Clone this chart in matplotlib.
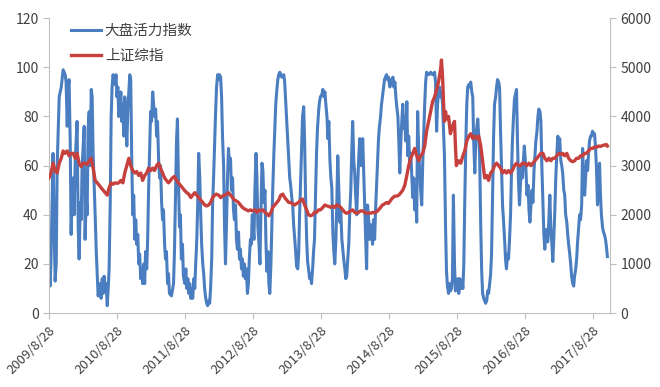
import pandas as pd
import matplotlib
matplotlib.use("Agg")
import matplotlib.pyplot as plt
import matplotlib.dates as mdates

plt.rcParams['font.family'] = ['Noto Sans CJK SC', 'DejaVu Sans']

# 大盘活力指数 (left axis)
vitality_dates = [
    "2009-08-28", "2009-09-03", "2009-09-08", "2009-09-14", "2009-09-19", "2009-09-25", "2009-09-30",
    "2009-10-06", "2009-10-11", "2009-10-22", "2009-11-02", "2009-11-12", "2009-11-23", "2009-11-28",
    "2009-12-04", "2009-12-09", "2009-12-14", "2009-12-20", "2009-12-25", "2009-12-31", "2010-01-05",
    "2010-01-10", "2010-01-16", "2010-01-21", "2010-01-26", "2010-02-01", "2010-02-06", "2010-02-12",
    "2010-02-17", "2010-02-22", "2010-02-28", "2010-03-05", "2010-03-10", "2010-03-16", "2010-03-21",
    "2010-03-26", "2010-04-01", "2010-04-06", "2010-04-12", "2010-04-17", "2010-04-22", "2010-05-03",
    "2010-05-09", "2010-05-19", "2010-05-30", "2010-06-04", "2010-06-10", "2010-06-15", "2010-06-20",
    "2010-06-26", "2010-07-01", "2010-07-07", "2010-07-12", "2010-07-17", "2010-07-23", "2010-07-28",
    "2010-08-02", "2010-08-07", "2010-08-18", "2010-08-23", "2010-08-28",
    "2010-09-02", "2010-09-07", "2010-09-13", "2010-09-18", "2010-09-23", "2010-09-29", "2010-10-04",
    "2010-10-09", "2010-10-15", "2010-10-20", "2010-10-25", "2010-10-31", "2010-11-05", "2010-11-10",
    "2010-11-16", "2010-11-21", "2010-11-26", "2010-12-02", "2010-12-07", "2010-12-12", "2010-12-18",
    "2010-12-23", "2010-12-28", "2011-01-03", "2011-01-08", "2011-01-13", "2011-01-19", "2011-01-24",
    "2011-01-29", "2011-02-04", "2011-02-09", "2011-02-14", "2011-02-20", "2011-02-25", "2011-03-02",
    "2011-03-08", "2011-03-13", "2011-03-18", "2011-03-24", "2011-03-29", "2011-04-03", "2011-04-09",
    "2011-04-14", "2011-04-19", "2011-04-25", "2011-04-30", "2011-05-05", "2011-05-11", "2011-05-16",
    "2011-05-21", "2011-05-27", "2011-06-01", "2011-06-06", "2011-06-17", "2011-06-28", "2011-07-03",
    "2011-07-08", "2011-07-14", "2011-07-19", "2011-07-24", "2011-07-30", "2011-08-04", "2011-08-09",
    "2011-08-15", "2011-08-20", "2011-08-28",
    "2011-09-02", "2011-09-07", "2011-09-13", "2011-09-18", "2011-09-23", "2011-09-29", "2011-10-04",
    "2011-10-09", "2011-10-15", "2011-10-20", "2011-10-25", "2011-10-31", "2011-11-05", "2011-11-10",
    "2011-11-16", "2011-11-21", "2011-11-26", "2011-12-02", "2011-12-07", "2011-12-12", "2011-12-18",
    "2011-12-23", "2011-12-28", "2012-01-03", "2012-01-08", "2012-01-13", "2012-01-19", "2012-01-24",
    "2012-01-29", "2012-02-04", "2012-02-09", "2012-02-14", "2012-02-20", "2012-02-25", "2012-03-01",
    "2012-03-07", "2012-03-12", "2012-03-17", "2012-03-23", "2012-03-28", "2012-04-02", "2012-04-08",
    "2012-04-13", "2012-04-18", "2012-04-24", "2012-04-29", "2012-05-04", "2012-05-10", "2012-05-15",
    "2012-05-20", "2012-05-26", "2012-05-31", "2012-06-05", "2012-06-11", "2012-06-16", "2012-06-21",
    "2012-06-27", "2012-07-02", "2012-07-07", "2012-07-13", "2012-07-18", "2012-07-23", "2012-07-29",
    "2012-08-03", "2012-08-08", "2012-08-14", "2012-08-19", "2012-08-24",
    "2012-09-02", "2012-09-07", "2012-09-13", "2012-09-18", "2012-09-23", "2012-09-29", "2012-10-04",
    "2012-10-09", "2012-10-15", "2012-10-20", "2012-10-25", "2012-10-31", "2012-11-05", "2012-11-10",
    "2012-11-16", "2012-11-21", "2012-11-26", "2012-12-02", "2012-12-07", "2012-12-12", "2012-12-18",
    "2012-12-23", "2012-12-28", "2013-01-03", "2013-01-08", "2013-01-13", "2013-01-19", "2013-01-29",
    "2013-02-09", "2013-02-14", "2013-02-20", "2013-02-25", "2013-03-02", "2013-03-08", "2013-03-13",
    "2013-03-18", "2013-03-24", "2013-03-29", "2013-04-03", "2013-04-09", "2013-04-14", "2013-04-19",
    "2013-04-25", "2013-04-30", "2013-05-05", "2013-05-11", "2013-05-16", "2013-05-21", "2013-05-27",
    "2013-06-01", "2013-06-06", "2013-06-12", "2013-06-17", "2013-06-22", "2013-06-28", "2013-07-03",
    "2013-07-08", "2013-07-14", "2013-07-19", "2013-07-24", "2013-07-30", "2013-08-04", "2013-08-09",
    "2013-08-15", "2013-08-20", "2013-08-25",
    "2013-09-02", "2013-09-07", "2013-09-13", "2013-09-18", "2013-09-23", "2013-09-29", "2013-10-04",
    "2013-10-09", "2013-10-15", "2013-10-20", "2013-10-25", "2013-10-31", "2013-11-05", "2013-11-10",
    "2013-11-16", "2013-11-21", "2013-11-26", "2013-12-02", "2013-12-07", "2013-12-12", "2013-12-18",
    "2013-12-23", "2013-12-28", "2014-01-03", "2014-01-08", "2014-01-13", "2014-01-19", "2014-01-24",
    "2014-01-29", "2014-02-04", "2014-02-09", "2014-02-14", "2014-02-20", "2014-02-25", "2014-03-02",
    "2014-03-08", "2014-03-13", "2014-03-18", "2014-03-24", "2014-03-29", "2014-04-03", "2014-04-09",
    "2014-04-14", "2014-04-19", "2014-04-25", "2014-04-30", "2014-05-05", "2014-05-11", "2014-05-16",
    "2014-05-21", "2014-05-27", "2014-06-01", "2014-06-06", "2014-06-12", "2014-06-17", "2014-06-22",
    "2014-06-28", "2014-07-03", "2014-07-08", "2014-07-14", "2014-07-19", "2014-07-24", "2014-07-30",
    "2014-08-04", "2014-08-09", "2014-08-15", "2014-08-20", "2014-08-25",
    "2014-09-02", "2014-09-07", "2014-09-13", "2014-09-18", "2014-09-23", "2014-09-29", "2014-10-04",
    "2014-10-09", "2014-10-15", "2014-10-20", "2014-10-25", "2014-10-31", "2014-11-05", "2014-11-10",
    "2014-11-16", "2014-11-21", "2014-11-26", "2014-12-02", "2014-12-07", "2014-12-12", "2014-12-18",
    "2014-12-23", "2014-12-28", "2015-01-03", "2015-01-08", "2015-01-13", "2015-01-19", "2015-01-24",
    "2015-01-29", "2015-02-04", "2015-02-09", "2015-02-14", "2015-02-20", "2015-02-25", "2015-03-02",
    "2015-03-08", "2015-03-13", "2015-03-18", "2015-03-29", "2015-04-09", "2015-04-19", "2015-04-30",
    "2015-05-05", "2015-05-11", "2015-05-16", "2015-05-21", "2015-05-27", "2015-06-01", "2015-06-06",
    "2015-06-12", "2015-06-17", "2015-06-22", "2015-06-28", "2015-07-03", "2015-07-08", "2015-07-14",
    "2015-07-19", "2015-07-24", "2015-07-30", "2015-08-04", "2015-08-09", "2015-08-15", "2015-08-20",
    "2015-08-25",
    "2015-09-02", "2015-09-07", "2015-09-13", "2015-09-18", "2015-09-23", "2015-09-29", "2015-10-04",
    "2015-10-09", "2015-10-15", "2015-10-20", "2015-10-25", "2015-10-31", "2015-11-05", "2015-11-10",
    "2015-11-16", "2015-11-21", "2015-11-26", "2015-12-02", "2015-12-07", "2015-12-12", "2015-12-18",
    "2015-12-23", "2015-12-28", "2016-01-03", "2016-01-08", "2016-01-13", "2016-01-19", "2016-01-24",
    "2016-01-29", "2016-02-04", "2016-02-09", "2016-02-14", "2016-02-20", "2016-02-25", "2016-03-01",
    "2016-03-07", "2016-03-12", "2016-03-17", "2016-03-23", "2016-03-28", "2016-04-02", "2016-04-08",
    "2016-04-13", "2016-04-18", "2016-04-24", "2016-04-29", "2016-05-04", "2016-05-10", "2016-05-15",
    "2016-05-20", "2016-05-26", "2016-05-31", "2016-06-05", "2016-06-11", "2016-06-16", "2016-06-21",
    "2016-06-27", "2016-07-02", "2016-07-07", "2016-07-13", "2016-07-18", "2016-07-23", "2016-07-29",
    "2016-08-03", "2016-08-08", "2016-08-14", "2016-08-19", "2016-08-24",
    "2016-09-02", "2016-09-07", "2016-09-13", "2016-09-18", "2016-09-23", "2016-09-29", "2016-10-04",
    "2016-10-09", "2016-10-15", "2016-10-20", "2016-10-25", "2016-10-31", "2016-11-05", "2016-11-10",
    "2016-11-16", "2016-11-21", "2016-11-26", "2016-12-02", "2016-12-07", "2016-12-12", "2016-12-18",
    "2016-12-23", "2016-12-28", "2017-01-03", "2017-01-08", "2017-01-13", "2017-01-19", "2017-01-24",
    "2017-01-29", "2017-02-04", "2017-02-09", "2017-02-14", "2017-02-20", "2017-02-25", "2017-03-02",
    "2017-03-08", "2017-03-13", "2017-03-18", "2017-03-24", "2017-03-29", "2017-04-03", "2017-04-09",
    "2017-04-14", "2017-04-19", "2017-04-25", "2017-04-30", "2017-05-05", "2017-05-11", "2017-05-16",
    "2017-05-21", "2017-05-27", "2017-06-01", "2017-06-06", "2017-06-12", "2017-06-17", "2017-06-22",
    "2017-06-28", "2017-07-03", "2017-07-08", "2017-07-14", "2017-07-19", "2017-07-24", "2017-07-30",
    "2017-08-04", "2017-08-09", "2017-08-15", "2017-08-20", "2017-08-25", "2017-08-31", "2017-09-05",
    "2017-09-10", "2017-09-16", "2017-09-21", "2017-09-26", "2017-10-02", "2017-10-07", "2017-10-12",
    "2017-10-18", "2017-10-23", "2017-10-28", "2017-11-03", "2017-11-08", "2017-11-13",
]
vitality = [
    27, 11, 22, 45, 65, 35, 13, 20, 60, 88, 92, 99, 97, 94, 76, 92, 95, 70, 32, 50, 55,
    40, 62, 70, 78, 35, 22, 45, 38, 60, 68, 76, 30, 48, 40, 75, 82, 60, 91, 88, 65, 40,
    25, 7, 12, 6, 14, 8, 15, 9, 12, 3, 10, 18, 45, 80, 92, 97, 93, 97, 88,
    92, 80, 84, 90, 78, 85, 72, 88, 80, 68, 82, 90, 97, 95, 60, 40, 48, 30, 38, 28, 32,
    20, 24, 14, 18, 12, 20, 12, 25, 18, 30, 50, 68, 82, 78, 90, 85, 80, 83, 72, 78, 62,
    55, 60, 45, 38, 42, 28, 22, 25, 12, 16, 8, 7, 12, 25, 45, 70, 79, 55, 35, 40, 22,
    28, 15, 12,
    18, 10, 14, 8, 12, 6, 10, 6, 14, 10, 20, 30, 45, 65, 55, 40, 28, 20, 16, 10, 6,
    4, 3, 5, 4, 10, 22, 45, 55, 70, 82, 92, 97, 95, 97, 96, 88, 72, 60, 35, 20, 38,
    55, 67, 60, 63, 50, 55, 42, 38, 44, 30, 26, 33, 22, 26, 18, 22, 15, 20, 14, 18, 8,
    12, 22, 30, 28, 40,
    30, 50, 65, 55, 35, 28, 20, 40, 61, 58, 45, 50, 30, 17, 25, 12, 8, 20, 35, 51, 65,
    75, 85, 91, 95, 97, 98, 96, 97, 94, 85, 78, 71, 62, 55, 52, 47, 44, 36, 30, 25, 19,
    18, 24, 40, 55, 68, 80, 84, 70, 48, 30, 21, 18, 14, 16, 12, 18, 25, 30, 50, 65, 75,
    82, 86, 88,
    89, 91, 88, 90, 85, 80, 71, 78, 62, 55, 51, 32, 25, 20, 30, 45, 64, 50, 37, 42, 30,
    26, 22, 18, 14, 15, 22, 28, 40, 50, 65, 78, 62, 57, 48, 40, 52, 62, 71, 60, 65, 71,
    58, 45, 30, 18, 44, 38, 30, 36, 33, 28, 38, 30, 42, 51, 62, 71, 76, 80, 85, 88, 92,
    95, 96, 97, 95, 96,
    92, 95, 93, 96, 92, 94, 88, 84, 80, 70, 57, 70, 78, 85, 75, 80, 70, 86, 64, 72, 60,
    65, 57, 47, 55, 42, 48, 37, 82, 65, 58, 50, 44, 60, 72, 85, 94, 98, 97, 98, 97, 98,
    94, 74, 85, 90, 92, 88, 90, 85, 75, 64, 35, 17, 11, 8, 12, 9, 10, 14, 48, 20, 9,
    10,
    14, 8, 14, 10, 13, 10, 20, 45, 70, 85, 92, 93, 92, 94, 90, 88, 70, 57, 70, 75, 79,
    72, 64, 35, 17, 8, 6, 5, 4, 5, 9, 8, 12, 16, 24, 51, 72, 85, 88, 92, 95, 94,
    92, 75, 58, 44, 38, 30, 22, 18, 24, 22, 29, 40, 57, 70, 80, 87, 89, 91, 71, 55, 44,
    52, 60, 55, 62, 68,
    58, 48, 52, 42, 37, 44, 50, 45, 58, 64, 70, 74, 80, 83, 82, 78, 60, 44, 32, 26, 34,
    30, 29, 38, 48, 35, 28, 21, 30, 42, 55, 64, 72, 66, 71, 62, 60, 57, 50, 48, 40, 37,
    32, 28, 24, 20, 15, 12, 11, 15, 18, 22, 29, 35, 40, 38, 44, 67, 55, 48, 55, 62, 58,
    65, 70, 72, 72, 74, 73, 73, 68, 58, 44, 52, 61, 48, 40, 35, 33, 32, 30, 27, 23,
]

# 上证综指 (right axis)
sh_dates = [
    "2009-08-28", "2009-09-08", "2009-09-19", "2009-09-30", "2009-10-11", "2009-10-22", "2009-11-02",
    "2009-11-12", "2009-11-23", "2009-12-04", "2009-12-14", "2009-12-25", "2010-01-05", "2010-01-16",
    "2010-01-26", "2010-02-06", "2010-02-17", "2010-02-28", "2010-03-10", "2010-03-21", "2010-04-01",
    "2010-04-12", "2010-04-22", "2010-05-03", "2010-05-14", "2010-05-25", "2010-06-04", "2010-06-15",
    "2010-06-26", "2010-07-07", "2010-07-17", "2010-07-28", "2010-08-07", "2010-08-18", "2010-08-28",
    "2010-09-07", "2010-09-18", "2010-09-29", "2010-10-09", "2010-10-20", "2010-10-31", "2010-11-10",
    "2010-11-21", "2010-12-02", "2010-12-12", "2010-12-23", "2011-01-03", "2011-01-13", "2011-01-24",
    "2011-02-04", "2011-02-14", "2011-02-25", "2011-03-08", "2011-03-18", "2011-03-29", "2011-04-09",
    "2011-04-19", "2011-04-30", "2011-05-11", "2011-05-21", "2011-06-01", "2011-06-12", "2011-06-22",
    "2011-07-03", "2011-07-14", "2011-07-24", "2011-08-04", "2011-08-15", "2011-08-25", "2011-09-07",
    "2011-09-18", "2011-09-29", "2011-10-09", "2011-10-20", "2011-10-31", "2011-11-10", "2011-11-21",
    "2011-12-02", "2011-12-12", "2011-12-23", "2012-01-03", "2012-01-13", "2012-01-24", "2012-02-04",
    "2012-02-14", "2012-02-25", "2012-03-07", "2012-03-17", "2012-03-28", "2012-04-08", "2012-04-18",
    "2012-04-29", "2012-05-10", "2012-05-20", "2012-05-31", "2012-06-11", "2012-06-21", "2012-07-02",
    "2012-07-13", "2012-07-23", "2012-08-03", "2012-08-14", "2012-08-24", "2012-09-07", "2012-09-18",
    "2012-09-29", "2012-10-09", "2012-10-20", "2012-10-31", "2012-11-10", "2012-11-21", "2012-12-02",
    "2012-12-12", "2012-12-23", "2013-01-03", "2013-01-13", "2013-01-24", "2013-02-04", "2013-02-14",
    "2013-02-25", "2013-03-08", "2013-03-18", "2013-03-29", "2013-04-09", "2013-04-19", "2013-04-30",
    "2013-05-11", "2013-05-21", "2013-06-01", "2013-06-12", "2013-06-22", "2013-07-03", "2013-07-14",
    "2013-07-24", "2013-08-04", "2013-08-15", "2013-08-25", "2013-09-07", "2013-09-18", "2013-09-29",
    "2013-10-09", "2013-10-20", "2013-10-31", "2013-11-10", "2013-11-21", "2013-12-02", "2013-12-12",
    "2013-12-23", "2014-01-03", "2014-01-13", "2014-01-24", "2014-02-04", "2014-02-14", "2014-02-25",
    "2014-03-08", "2014-03-18", "2014-03-29", "2014-04-09", "2014-04-19", "2014-04-30", "2014-05-11",
    "2014-05-21", "2014-06-01", "2014-06-12", "2014-06-22", "2014-07-03", "2014-07-14", "2014-07-24",
    "2014-08-04", "2014-08-15", "2014-08-25", "2014-09-07", "2014-09-18", "2014-09-29", "2014-10-09",
    "2014-10-20", "2014-10-31", "2014-11-10", "2014-11-21", "2014-12-02", "2014-12-12", "2014-12-23",
    "2015-01-03", "2015-01-13", "2015-01-24", "2015-02-04", "2015-02-14", "2015-02-25", "2015-03-08",
    "2015-03-18", "2015-03-29", "2015-04-09", "2015-04-19", "2015-04-30", "2015-05-11", "2015-05-21",
    "2015-06-01", "2015-06-06", "2015-06-12", "2015-06-17", "2015-06-22", "2015-06-28", "2015-07-03",
    "2015-07-14", "2015-07-24", "2015-08-04", "2015-08-15", "2015-08-20", "2015-08-25", "2015-09-07",
    "2015-09-18", "2015-09-29", "2015-10-09", "2015-10-20", "2015-10-31", "2015-11-10", "2015-11-21",
    "2015-12-02", "2015-12-12", "2015-12-23", "2016-01-03", "2016-01-13", "2016-01-24", "2016-02-04",
    "2016-02-14", "2016-02-25", "2016-03-07", "2016-03-17", "2016-03-28", "2016-04-08", "2016-04-18",
    "2016-04-29", "2016-05-10", "2016-05-20", "2016-05-31", "2016-06-11", "2016-06-21", "2016-07-02",
    "2016-07-13", "2016-07-23", "2016-08-03", "2016-08-14", "2016-08-24", "2016-09-07", "2016-09-18",
    "2016-09-29", "2016-10-09", "2016-10-20", "2016-10-31", "2016-11-10", "2016-11-21", "2016-12-02",
    "2016-12-12", "2016-12-23", "2017-01-03", "2017-01-13", "2017-01-24", "2017-02-04", "2017-02-14",
    "2017-02-25", "2017-03-08", "2017-03-18", "2017-03-29", "2017-04-09", "2017-04-19", "2017-04-30",
    "2017-05-11", "2017-05-21", "2017-06-01", "2017-06-12", "2017-06-22", "2017-07-03", "2017-07-14",
    "2017-07-24", "2017-08-04", "2017-08-15", "2017-08-25", "2017-09-05", "2017-09-16", "2017-09-26",
    "2017-10-07", "2017-10-18", "2017-10-28", "2017-11-08", "2017-11-13",
]
sh_index = [
    2750, 2850, 3050, 2900, 2850, 3050, 3150, 3300, 3250, 3300, 3200, 3250, 3250, 3150,
    3250, 3050, 2980, 3050, 3050, 3020, 3100, 3150, 2950, 2700, 2650, 2600, 2550, 2500,
    2450, 2400, 2550, 2650, 2620, 2650, 2640, 2650, 2700, 2650, 2850, 3000, 3150, 3000,
    2900, 2850, 2880, 2800, 2850, 2700, 2800, 2850, 2950, 2900, 2950, 2900, 3000, 3050,
    2950, 2850, 2750, 2700, 2650, 2700, 2750, 2780, 2700, 2650, 2600, 2550, 2500, 2450,
    2420, 2350, 2400, 2450, 2400, 2350, 2300, 2250, 2200, 2180, 2200, 2250, 2350, 2400,
    2420, 2400, 2350, 2380, 2400, 2420, 2450, 2400, 2350, 2300, 2280, 2250, 2200, 2150,
    2120, 2100, 2080, 2100, 2080, 2100, 2050, 2100, 2080, 2100, 2050, 2020, 1980, 2050,
    2150, 2200, 2250, 2300, 2400, 2420, 2350, 2300, 2250, 2250, 2220, 2200, 2230, 2250,
    2300, 2320, 2200, 2100, 2000, 1980, 2000, 2050, 2050, 2100, 2100, 2150, 2200, 2180,
    2170, 2150, 2180, 2150, 2200, 2180, 2150, 2100, 2050, 2030, 2050, 2080, 2100, 2050,
    2030, 2050, 2080, 2080, 2050, 2030, 2040, 2030, 2050, 2040, 2060, 2100, 2150, 2200,
    2220, 2250, 2230, 2300, 2350, 2380, 2380, 2400, 2450, 2500, 2600, 2800, 3000, 3150,
    3250, 3350, 3200, 3100, 3200, 3250, 3400, 3700, 3900, 4100, 4300, 4400, 4550, 4700,
    4950, 5150, 4800, 4300, 3900, 4100, 3950, 4000, 3650, 3800, 3900, 3400, 3000, 3100,
    3050, 3200, 3300, 3500, 3600, 3650, 3550, 3600, 3550, 3600, 3400, 3100, 2750, 2800,
    2700, 2850, 2900, 3000, 3050, 3000, 2950, 2850, 2900, 2850, 2900, 2850, 2900, 3000,
    3050, 3000, 3000, 3050, 3050, 3000, 3050, 3000, 3050, 3100, 3150, 3200, 3250, 3250,
    3150, 3100, 3150, 3100, 3150, 3150, 3200, 3250, 3230, 3250, 3200, 3250, 3150, 3100,
    3080, 3100, 3150, 3150, 3200, 3200, 3250, 3250, 3300, 3350, 3350, 3380, 3370, 3400,
    3390, 3410, 3420, 3430, 3400,
]

tick_dates = ["2009-08-28", "2010-08-28", "2011-08-28", "2012-08-28", "2013-08-28",
              "2014-08-28", "2015-08-28", "2016-08-28", "2017-08-28"]
tick_labels = ["2009/8/28", "2010/8/28", "2011/8/28", "2012/8/28", "2013/8/28",
               "2014/8/28", "2015/8/28", "2016/8/28", "2017/8/28"]

blue = "#4A7EC0"
red = "#C6403E"
axis_grey = "#BFBFBF"
text_grey = "#404040"

fig = plt.figure(figsize=(6.6, 3.87), dpi=100)
ax = fig.add_axes([0.0742, 0.191, 0.8500, 0.762])
ax2 = ax.twinx()

l1, = ax.plot(pd.to_datetime(vitality_dates), vitality, color=blue, lw=2.2,
              solid_joinstyle="round", label="大盘活力指数")
l2, = ax2.plot(pd.to_datetime(sh_dates), sh_index, color=red, lw=2.4,
               solid_joinstyle="round", label="上证综指")

ax.set_ylim(0, 120)
ax.set_yticks(range(0, 121, 20))
ax2.set_ylim(0, 6000)
ax2.set_yticks(range(0, 6001, 1000))
ax.set_xlim(pd.Timestamp("2009-08-28"), pd.Timestamp("2017-11-27"))

ticks = [mdates.date2num(pd.Timestamp(d)) for d in tick_dates]
ax.set_xticks(ticks)
ax.set_xticklabels(tick_labels, rotation=45, ha="right", rotation_mode="anchor")

for a in (ax, ax2):
    a.spines["top"].set_visible(False)
    for s in ("left", "right", "bottom"):
        a.spines[s].set_color(axis_grey)
    a.tick_params(colors=axis_grey, labelcolor=text_grey, labelsize=10, length=4)
ax.tick_params(axis="x", labelsize=9.5)
ax.spines["right"].set_visible(False)
ax2.spines["left"].set_visible(False)
ax2.spines["bottom"].set_visible(False)

leg = ax2.legend(handles=[l1, l2], loc="upper left", bbox_to_anchor=(0.015, 1.025),
                 frameon=False, fontsize=10.5, handlelength=2.1, handletextpad=0.25,
                 labelspacing=0.75)
for t in leg.get_texts():
    t.set_color(text_grey)

fig.savefig("out.png", dpi=100)
